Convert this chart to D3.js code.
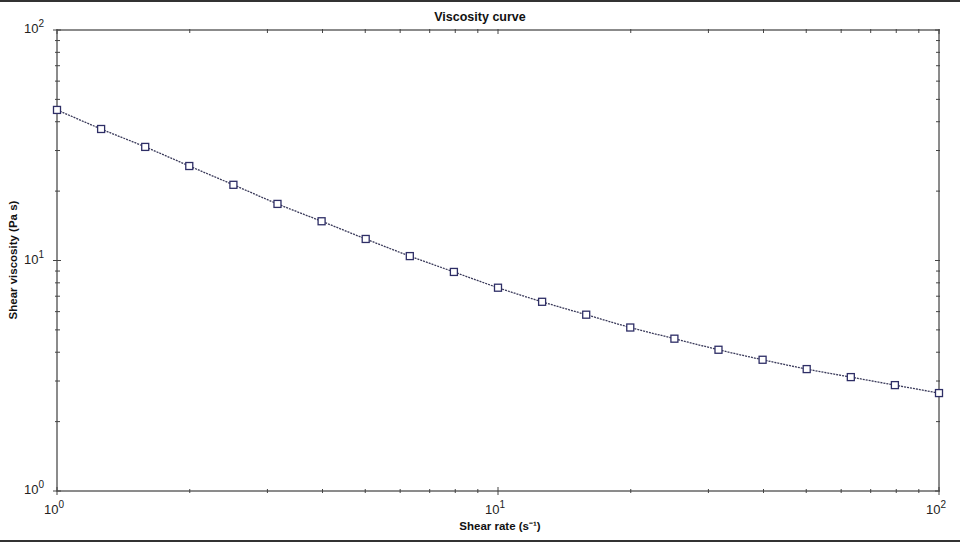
<!DOCTYPE html>
<html><head><meta charset="utf-8">
<script src="https://cdn.jsdelivr.net/npm/d3@7"></script>
<style>body{margin:0;background:#fff}svg{display:block;font-family:"Liberation Sans",Arial,sans-serif}</style>
</head><body>
<svg id="c" width="960" height="542"></svg>
<script>
const shearRate = [1, 1.259, 1.585, 1.995, 2.512, 3.162, 3.981, 5.012, 6.310, 7.943, 10, 12.59, 15.85, 19.95, 25.12, 31.62, 39.81, 50.12, 63.10, 79.43, 100];
const viscosity = [45.0, 37.2, 31.1, 25.7, 21.3, 17.6, 14.8, 12.4, 10.45, 8.92, 7.62, 6.62, 5.82, 5.12, 4.58, 4.10, 3.71, 3.38, 3.12, 2.88, 2.66];
const majorTicks = [1, 10, 100];
const majorExp = ["0", "1", "2"];

const svg = d3.select("#c");
const L = 57, R = 939, T = 30, B = 491;
const x = d3.scaleLog().domain([1, 100]).range([L, R]);
const y = d3.scaleLog().domain([1, 100]).range([B, T]);
const axisCol = "#666";

// frame lines top/bottom
svg.append("line").attr("x1",0).attr("x2",960).attr("y1",1).attr("y2",1).attr("stroke","#333").attr("stroke-width",2);
svg.append("line").attr("x1",0).attr("x2",960).attr("y1",541).attr("y2",541).attr("stroke","#333").attr("stroke-width",2);

const minor = [];
for (const d of [1, 10]) for (let k = 2; k <= 9; k++) minor.push(d * k);

// box
svg.append("rect").attr("x",L).attr("y",T).attr("width",R-L).attr("height",B-T)
  .attr("fill","none").attr("stroke",axisCol).attr("stroke-width",1.5);

const g = svg.append("g").attr("stroke","#444").attr("stroke-width",1);
// x ticks bottom and top
minor.forEach(v => {
  g.append("line").attr("x1",x(v)).attr("x2",x(v)).attr("y1",B-2).attr("y2",B+2);
  g.append("line").attr("x1",x(v)).attr("x2",x(v)).attr("y1",T-1).attr("y2",T+3);
  g.append("line").attr("y1",y(v)).attr("y2",y(v)).attr("x1",L-2).attr("x2",L+3);
  g.append("line").attr("y1",y(v)).attr("y2",y(v)).attr("x1",R-3).attr("x2",R+1);
});
majorTicks.forEach(v => {
  g.append("line").attr("x1",x(v)).attr("x2",x(v)).attr("y1",B-4).attr("y2",B+4);
  g.append("line").attr("x1",x(v)).attr("x2",x(v)).attr("y1",T-1).attr("y2",T+4);
  g.append("line").attr("y1",y(v)).attr("y2",y(v)).attr("x1",L-4).attr("x2",L+4);
  g.append("line").attr("y1",y(v)).attr("y2",y(v)).attr("x1",R-4).attr("x2",R+1);
});

// tick labels
majorTicks.forEach((v, i) => {
  const tx = svg.append("text").attr("x", x(v) - 3).attr("y", B + 23).attr("text-anchor","middle")
    .attr("font-size",13).attr("fill","#222");
  tx.append("tspan").text("10");
  tx.append("tspan").attr("dy",-6).attr("font-size",10).text(majorExp[i]);
  const ty = svg.append("text").attr("x", 44).attr("y", y(v) + 3).attr("text-anchor","end")
    .attr("font-size",13).attr("fill","#222");
  ty.append("tspan").text("10");
  ty.append("tspan").attr("dy",-6).attr("font-size",10).text(majorExp[i]);
});

// title and labels
svg.append("text").attr("x",480).attr("y",21).attr("text-anchor","middle").attr("font-size",12.5)
  .attr("font-weight","bold").attr("fill","#111").text("Viscosity curve");
svg.append("text").attr("x",500).attr("y",530).attr("text-anchor","middle").attr("font-size",11.5)
  .attr("font-weight","bold").attr("fill","#111").text("Shear rate (s\u207B\u00B9)");
svg.append("text").attr("transform","translate(17,260) rotate(-90)").attr("text-anchor","middle")
  .attr("font-size",11.5).attr("font-weight","bold").attr("fill","#111").text("Shear viscosity (Pa s)");

const data = shearRate.map((s, i) => ({s, v: viscosity[i]}));
const line = d3.line().x(d => x(d.s)).y(d => y(d.v)).curve(d3.curveMonotoneX);
svg.append("path").datum(data).attr("d", line).attr("fill","none")
  .attr("stroke","#3a3a5a").attr("stroke-width",1.3).attr("stroke-dasharray","2,1");

svg.selectAll("rect.m").data(data).enter().append("rect").attr("class","m")
  .attr("x", d => x(d.s) - 3.5).attr("y", d => y(d.v) - 3.5).attr("width",7).attr("height",7)
  .attr("fill","#fff").attr("stroke","#2e2e66").attr("stroke-width",1.3);
</script>
</body></html>
